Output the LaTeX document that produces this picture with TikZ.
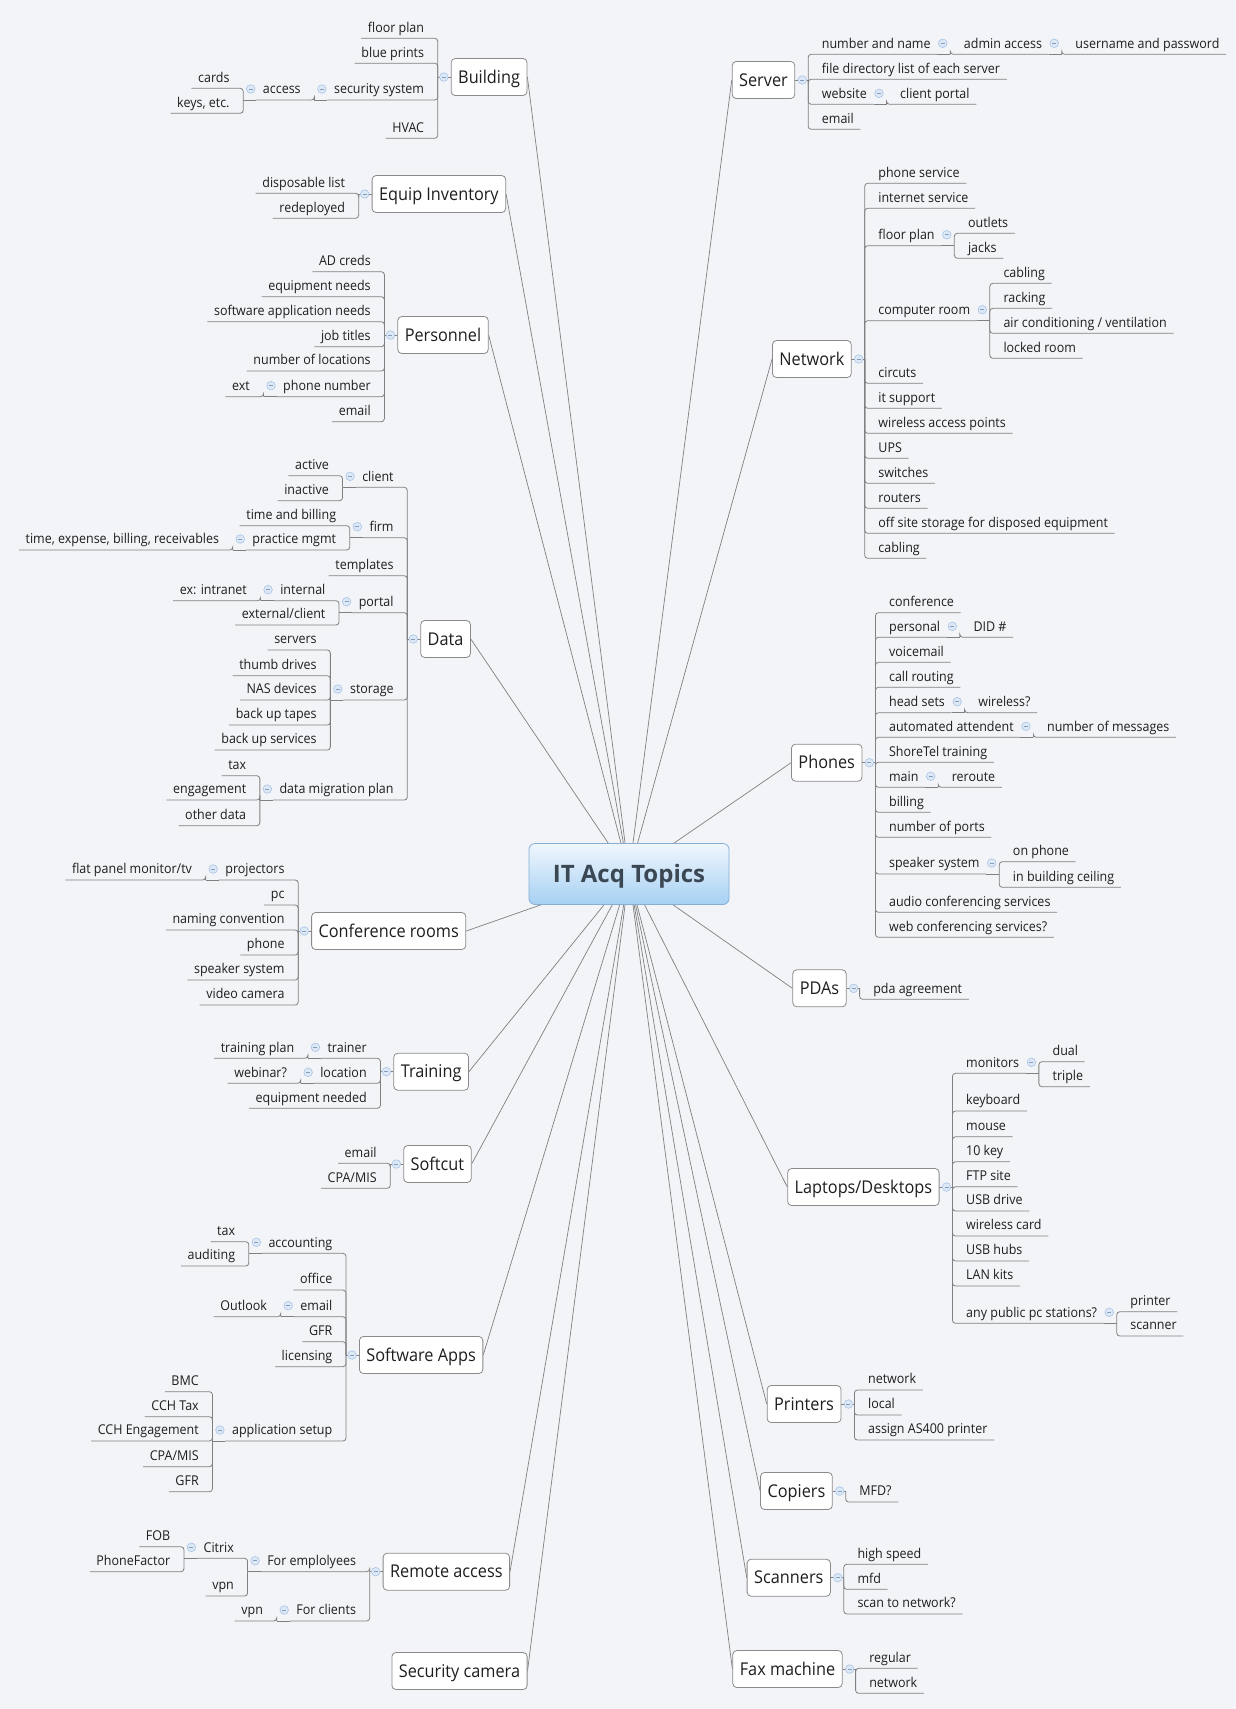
\documentclass[tikz,border=0pt]{standalone}
\usepackage{fontspec}
\setmainfont{Open Sans}
\newfontfamily\narrowface[FakeStretch=0.925]{Open Sans}
\usetikzlibrary{calc,backgrounds,positioning}
\definecolor{bgc}{HTML}{F3F4F7}
\definecolor{linec}{HTML}{808080}
\definecolor{boxc}{HTML}{8A8A8A}
\definecolor{txtc}{HTML}{1E1E1E}
\definecolor{roottxt}{HTML}{3B4854}
\definecolor{rootTop}{HTML}{F0F7FD}
\definecolor{rootBot}{HTML}{A6D0F3}
\definecolor{rootEdge}{HTML}{86AED4}
\definecolor{togFill}{HTML}{DCE8F6}
\definecolor{togEdge}{HTML}{A9C4E7}
\newcommand{\leaffont}{\narrowface\fontsize{13.5}{16}\selectfont}
\newcommand{\topicfont}{\narrowface\fontsize{17.6}{20}\selectfont}
\newcommand{\rootfont}{\fontsize{24}{28}\selectfont\bfseries}
% underlined entry right of a port: port, name, underline y, text
\newcommand{\kidR}[4]{%
  \path (#1) ++(13,0) coordinate (#2-s) ++(7,0) coordinate (#2-a);
  \node[leaf, anchor=south west] (#2) at (#2-a |- 0,#3) {#4};
  \draw[link] (#1) -- (#2-s);
  \draw[link, rounded corners=3pt] (#2-s) |- (#2.south west) -- (#2.south east);
}
% underlined entry left of a port
\newcommand{\kidL}[4]{%
  \path (#1) ++(-13,0) coordinate (#2-s) ++(-7,0) coordinate (#2-a);
  \node[leaf, anchor=south east] (#2) at (#2-a |- 0,#3) {#4};
  \draw[link] (#1) -- (#2-s);
  \draw[link, rounded corners=3pt] (#2-s) |- (#2.south east) -- (#2.south west);
}
% collapse buttons
\newcommand{\togBR}[1]{\node[tog] (#1-o) at ([xshift=7pt]#1.east) {};}
\newcommand{\togBL}[1]{\node[tog] (#1-o) at ([xshift=-7pt]#1.west) {};}
\newcommand{\togLR}[1]{\node[tog] (#1-o) at ([xshift=5.5pt,yshift=11pt]#1.south east) {};}
\newcommand{\togLL}[1]{\node[tog] (#1-o) at ([xshift=-5.5pt,yshift=11pt]#1.south west) {};}
\tikzset{
  % topic boxes
  topic/.style   = {draw=boxc, fill=white, rounded corners=4pt, line width=0.8pt,
                    font=\topicfont, text=txtc, inner xsep=7pt, inner ysep=0pt,
                    minimum height=37pt, text height=12.4pt, text depth=0pt},
  rootbox/.style = {draw=rootEdge, top color=rootTop, bottom color=rootBot,
                    rounded corners=6pt, line width=0.8pt, font=\rootfont, text=roottxt,
                    minimum width=200pt, minimum height=61pt, text height=17pt, text depth=0pt},
  % underlined entries
  leaf/.style    = {font=\leaffont, text=txtc, inner xsep=6.5pt, inner ysep=3pt,
                    text height=10pt, text depth=3pt},
  % connectors
  link/.style    = {draw=linec, line width=0.8pt},
  mainlink/.style= {draw=linec, line width=0.7pt},
  tog/.style     = {circle, draw=togEdge, fill=togFill, line width=0.6pt,
                    minimum size=8.6pt, inner sep=0pt,
                    path picture={\draw[togEdge!80!black, line width=0.7pt]
                      ([xshift=-2pt]path picture bounding box.center) --
                      ([xshift=2pt]path picture bounding box.center);}},
}
\begin{document}
\begin{tikzpicture}[x=1pt, y=-1pt]
  \useasboundingbox (0,0) rectangle (1236,1709);
  % centre
  \node[rootbox] (root) at (629,874) {IT Acq Topics};
  % left topics
  \node[topic, anchor=west] (bld)  at (450.8,77)    {Building};
  \node[topic, anchor=west] (inv)  at (371.7,194)   {Equip Inventory};
  \node[topic, anchor=west] (per)  at (397.4,335)   {Personnel};
  \node[topic, anchor=west] (dat)  at (420.3,639)   {Data};
  \node[topic, anchor=west] (conf) at (311.2,931)   {Conference rooms};
  \node[topic, anchor=west] (trn)  at (393.4,1071.7){Training};
  \node[topic, anchor=west] (soft) at (403.3,1164)  {Softcut};
  \node[topic, anchor=west] (apps) at (359,1355)    {Software Apps};
  \node[topic, anchor=west] (rem)  at (382.7,1571.7){Remote access};
  \node[topic, anchor=west] (cam)  at (391.5,1671)  {Security camera};
  % right topics
  \node[topic, anchor=east] (srv) at (795.2,80)     {Server};
  \node[topic, anchor=east] (net) at (851.7,359)    {Network};
  \node[topic, anchor=east] (pho) at (862.4,762.7)  {Phones};
  \node[topic, anchor=east] (pda) at (846.6,988.3)  {PDAs};
  \node[topic, anchor=east] (lap) at (939.5,1187)   {Laptops/Desktops};
  \node[topic, anchor=east] (prn) at (841.4,1404)   {Printers};
  \node[topic, anchor=east] (cop) at (832.7,1491)   {Copiers};
  \node[topic, anchor=east] (scn) at (830.8,1577.7) {Scanners};
  \node[topic, anchor=east] (fax) at (842.6,1669)   {Fax machine};

  % Building
  \foreach \n/\y/\t in {b1/38.3/floor plan, b2/63.3/blue prints, b3/100/security system, b4/138.3/HVAC}
    {\kidL{bld.west}{\n}{\y}{\t}}
  \kidL{b3.south west}{b31}{100}{access}
  \foreach \n/\y/\t in {b311/88.3/cards, b312/113.3/{keys, etc.}}
    {\kidL{b31.south west}{\n}{\y}{\t}}
  % Equip Inventory
  \foreach \n/\y/\t in {i1/193.3/disposable list, i2/218.3/redeployed}
    {\kidL{inv.west}{\n}{\y}{\t}}
  % Personnel
  \foreach \n/\y/\t in {p1/271.7/AD creds, p2/296.7/equipment needs, p3/321.7/software application needs,
      p4/346.7/job titles, p5/371/number of locations, p6/396.7/phone number, p7/421.7/email}
    {\kidL{per.west}{\n}{\y}{\t}}
  \kidL{p6.south west}{p61}{396.7}{ext}
  % Data
  \foreach \n/\y/\t in {d1/487.3/client, d2/537.7/firm, d3/575.7/templates, d4/612.7/portal,
      d5/700/storage, d6/800/data migration plan}
    {\kidL{dat.west}{\n}{\y}{\t}}
  \foreach \n/\y/\t in {d11/475.7/active, d12/500.7/inactive}
    {\kidL{d1.south west}{\n}{\y}{\t}}
  \foreach \n/\y/\t in {d21/525.7/time and billing, d22/550/practice mgmt}
    {\kidL{d2.south west}{\n}{\y}{\t}}
  \kidL{d22.south west}{d221}{550}{time, expense, billing, receivables}
  \foreach \n/\y/\t in {d41/600.7/internal, d42/625/{external/client}}
    {\kidL{d4.south west}{\n}{\y}{\t}}
  \kidL{d41.south west}{d411}{600.7}{ex: intranet}
  \foreach \n/\y/\t in {d51/650/servers, d52/675.7/thumb drives, d53/700/NAS devices,
      d54/725/back up tapes, d55/750/back up services}
    {\kidL{d5.south west}{\n}{\y}{\t}}
  \foreach \n/\y/\t in {d61/775.7/tax, d62/800/engagement, d63/825.7/other data}
    {\kidL{d6.south west}{\n}{\y}{\t}}
  % Conference rooms
  \foreach \n/\y/\t in {c1/880/projectors, c2/905/pc, c3/930/naming convention, c4/955/phone,
      c5/980/speaker system, c6/1005/video camera}
    {\kidL{conf.west}{\n}{\y}{\t}}
  \kidL{c1.south west}{c11}{880}{flat panel monitor/tv}
  % Training
  \foreach \n/\y/\t in {t1/1058.3/trainer, t2/1083.3/location, t3/1108.3/equipment needed}
    {\kidL{trn.west}{\n}{\y}{\t}}
  \kidL{t1.south west}{t11}{1058.3}{training plan}
  \kidL{t2.south west}{t21}{1083.3}{webinar?}
  % Softcut
  \foreach \n/\y/\t in {s1/1163.3/email, s2/1188.3/{CPA/MIS}}
    {\kidL{soft.west}{\n}{\y}{\t}}
  % Software Apps
  \foreach \n/\y/\t in {a1/1253.3/accounting, a2/1290/office, a3/1316.7/email, a4/1341.7/GFR,
      a5/1366.7/licensing, a6/1441/application setup}
    {\kidL{apps.west}{\n}{\y}{\t}}
  \foreach \n/\y/\t in {a11/1241.7/tax, a12/1266/auditing}
    {\kidL{a1.south west}{\n}{\y}{\t}}
  \kidL{a3.south west}{a31}{1316.7}{Outlook}
  \foreach \n/\y/\t in {a61/1391.7/BMC, a62/1416.7/CCH Tax, a63/1441/CCH Engagement,
      a64/1466.7/{CPA/MIS}, a65/1491.7/GFR}
    {\kidL{a6.south west}{\n}{\y}{\t}}
  % Remote access
  \foreach \n/\y/\t in {r1/1571.7/For emplolyees, r2/1621/For clients}
    {\kidL{rem.west}{\n}{\y}{\t}}
  \foreach \n/\y/\t in {r11/1558.3/Citrix, r12/1596/vpn}
    {\kidL{r1.south west}{\n}{\y}{\t}}
  \foreach \n/\y/\t in {r111/1546.7/FOB, r112/1571.7/PhoneFactor}
    {\kidL{r11.south west}{\n}{\y}{\t}}
  \kidL{r2.south west}{r21}{1621}{vpn}

  % Server
  \foreach \n/\y/\t in {v1/54.3/number and name, v2/79.3/file directory list of each server,
      v3/104.3/website, v4/129.3/email}
    {\kidR{srv.east}{\n}{\y}{\t}}
  \kidR{v1.south east}{v11}{54.3}{admin access}
  \kidR{v11.south east}{v111}{54.3}{username and password}
  \kidR{v3.south east}{v31}{104.3}{client portal}
  % Network
  \foreach \n/\y/\t in {n1/183.3/phone service, n2/208.3/internet service, n3/245.7/floor plan,
      n4/320.7/computer room, n5/383.3/circuts, n6/408.3/it support, n7/433.3/wireless access points,
      n8/458.3/UPS, n9/483.3/switches, n10/508.3/routers,
      n11/533.3/off site storage for disposed equipment, n12/558.3/cabling}
    {\kidR{net.east}{\n}{\y}{\t}}
  \foreach \n/\y/\t in {n31/233.3/outlets, n32/258.3/jacks}
    {\kidR{n3.south east}{\n}{\y}{\t}}
  \foreach \n/\y/\t in {n41/283.3/cabling, n42/308.3/racking,
      n43/333.3/{air conditioning / ventilation}, n44/358.3/locked room}
    {\kidR{n4.south east}{\n}{\y}{\t}}
  % Phones
  \foreach \n/\y/\t in {h1/612.7/conference, h2/637.3/personal, h3/662.3/voicemail, h4/687.3/call routing,
      h5/712.7/head sets, h6/737.3/automated attendent, h7/762.3/ShoreTel training, h8/787.3/main,
      h9/812.3/billing, h10/837.3/number of ports, h11/874/speaker system,
      h12/912.3/audio conferencing services, h13/937.3/web conferencing services?}
    {\kidR{pho.east}{\n}{\y}{\t}}
  \kidR{h2.south east}{h21}{637.3}{DID \#}
  \kidR{h5.south east}{h51}{712.7}{wireless?}
  \kidR{h6.south east}{h61}{737.3}{number of messages}
  \kidR{h8.south east}{h81}{787.3}{reroute}
  \foreach \n/\y/\t in {h111/861.7/on phone, h112/887.3/in building ceiling}
    {\kidR{h11.south east}{\n}{\y}{\t}}
  % PDAs
  \kidR{pda.east}{q1}{999.3}{pda agreement}
  % Laptops/Desktops
  \foreach \n/\y/\t in {l1/1073.3/monitors, l2/1111/keyboard, l3/1136.7/mouse, l4/1161.7/10 key,
      l5/1186.7/FTP site, l6/1211/USB drive, l7/1236/wireless card, l8/1261/USB hubs,
      l9/1286/LAN kits, l10/1323.3/any public pc stations?}
    {\kidR{lap.east}{\n}{\y}{\t}}
  \foreach \n/\y/\t in {l11/1061.7/dual, l12/1086.7/triple}
    {\kidR{l1.south east}{\n}{\y}{\t}}
  \foreach \n/\y/\t in {l101/1311.7/printer, l102/1336/scanner}
    {\kidR{l10.south east}{\n}{\y}{\t}}
  % Printers, Copiers, Scanners, Fax machine
  \foreach \n/\y/\t in {pr1/1390/network, pr2/1415/local, pr3/1440/assign AS400 printer}
    {\kidR{prn.east}{\n}{\y}{\t}}
  \kidR{cop.east}{co1}{1502}{MFD?}
  \foreach \n/\y/\t in {sc1/1564.3/high speed, sc2/1589.3/mfd, sc3/1614/scan to network?}
    {\kidR{scn.east}{\n}{\y}{\t}}
  \foreach \n/\y/\t in {fx1/1668.3/regular, fx2/1693.3/network}
    {\kidR{fax.east}{\n}{\y}{\t}}

  % collapse buttons
  \foreach \b in {bld,inv,per,dat,conf,trn,soft,apps,rem} {\togBL{\b}}
  \foreach \b in {srv,net,pho,pda,lap,prn,cop,scn,fax} {\togBR{\b}}
  \foreach \b in {b3,b31,p6,d1,d2,d22,d4,d41,d5,d6,c1,t1,t2,a1,a3,a6,r1,r11,r2} {\togLL{\b}}
  \foreach \b in {v1,v11,v3,n3,n4,h2,h5,h6,h8,h11,l1,l10} {\togLR{\b}}

  % spokes from the centre, under everything
  \begin{scope}[on background layer]
    \fill[bgc] (0,0) rectangle (1236,1709);
    \foreach \b in {bld,inv,per,dat,conf,trn,soft,apps,rem,cam}
      {\draw[mainlink] (root.center) -- (\b.east);}
    \foreach \b in {srv,net,pho,pda,lap,prn,cop,scn,fax}
      {\draw[mainlink] (root.center) -- (\b.west);}
  \end{scope}
\end{tikzpicture}
\end{document}
